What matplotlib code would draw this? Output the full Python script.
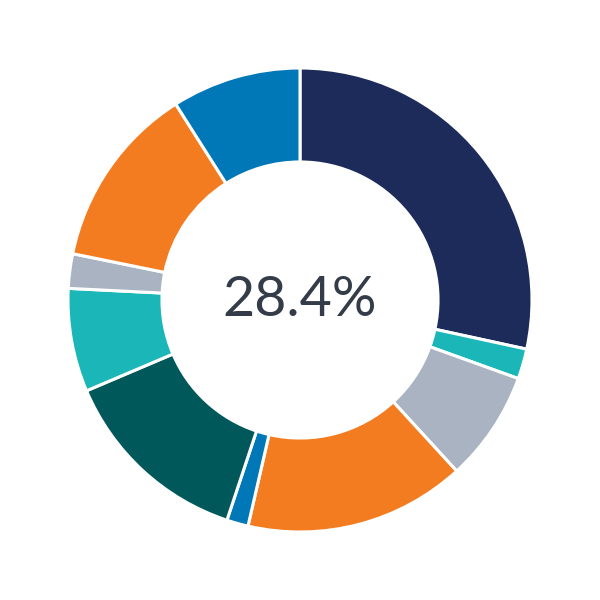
import matplotlib.pyplot as plt

# slice shares (percent), clockwise from 12 o'clock
shares = [28.4, 2.1, 7.7, 15.4, 1.5, 13.5, 7.2, 2.4, 12.8, 9.0]
colors = ['#1c2b5a', '#1ab6b8', '#a9b3c1', '#f47c20', '#0077b6',
          '#00585a', '#1ab6b8', '#a9b3c1', '#f47c20', '#0077b6']
center_label = '28.4%'

fig = plt.figure(figsize=(6, 6), dpi=100)
ax = fig.add_axes([0, 0, 1, 1])

outer_r = 1.0
ring_w = 0.405
ax.pie(shares, colors=colors, startangle=90, counterclock=False,
       radius=outer_r,
       wedgeprops=dict(width=ring_w, edgecolor='white', linewidth=2.2))

ax.text(0, 0, center_label, ha='center', va='center',
        fontsize=40, color='#333c48', family='Lato')

lim = 300 / 232
ax.set_xlim(-lim, lim)
ax.set_ylim(-lim, lim)
ax.set_aspect('equal')
ax.axis('off')

plt.savefig('out.png', dpi=100, facecolor='white')
plt.close()
